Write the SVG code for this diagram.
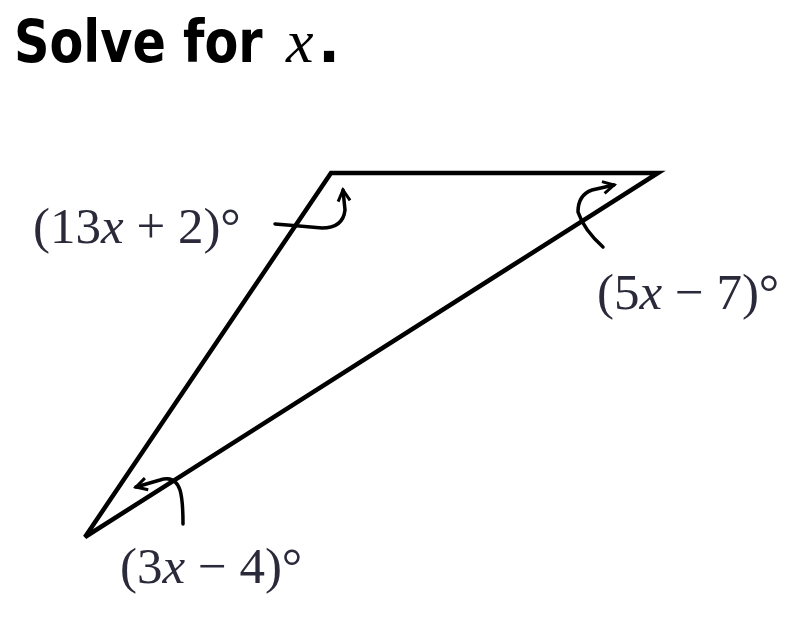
<svg xmlns="http://www.w3.org/2000/svg" width="790" height="617" viewBox="0 0 790 617">
<defs>
<style>
.title{font-family:"DejaVu Sans",Verdana,sans-serif;font-weight:bold;font-size:58px;fill:#000}
.lbl{font-family:"Liberation Serif","Times New Roman",serif;font-size:51px;fill:#2a2a3a}
.edge{fill:none;stroke:#000;stroke-width:4.5;stroke-linejoin:miter}
.arc{fill:none;stroke:#000;stroke-width:3.5;stroke-linecap:round}
</style>
<marker id="ah" viewBox="0 0 16 16" refX="13" refY="8" markerWidth="16" markerHeight="16" markerUnits="userSpaceOnUse" orient="auto">
<path d="M2 2 L13 8 L2 14" fill="none" stroke="#000" stroke-width="3"/>
</marker>
</defs>
<rect width="790" height="617" fill="#fff"/>
<g id="title">
<text class="title" transform="translate(14 62) scale(0.85 1)" x="0" y="0">Solve for</text>
<text x="286" y="62" font-family="Liberation Serif,serif" font-style="italic" font-size="62" fill="#000">x</text>
<text class="title" x="318" y="62">.</text>
</g>
<g id="triangle">
<path class="edge" d="M331 173 L658 173 L85 537 Z"/>
</g>
<g id="connectors">
<path class="arc" d="M275 224 Q300 226 322 228 Q343 228 345 210 L343 190" marker-end="url(#ah)"/>
<path class="arc" d="M603 247 Q584 230 578 212 Q578 195 592 190 L614 185" marker-end="url(#ah)"/>
<path class="arc" d="M183 524 Q183 500 180 490 Q175 475 160 480 L136 487" marker-end="url(#ah)"/>
</g>
<g id="label-a"><text class="lbl" x="33" y="243">(13<tspan font-style="italic">x</tspan> + 2)°</text></g>
<g id="label-b"><text class="lbl" x="597" y="309">(5<tspan font-style="italic">x</tspan> − 7)°</text></g>
<g id="label-c"><text class="lbl" x="120" y="583">(3<tspan font-style="italic">x</tspan> − 4)°</text></g>
</svg>
